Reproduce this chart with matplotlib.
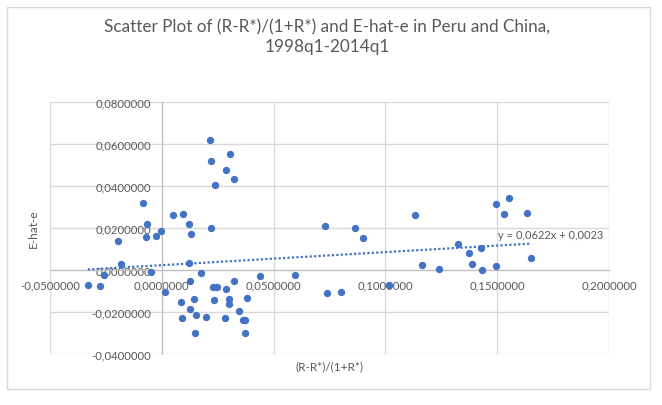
import numpy as np
import matplotlib
matplotlib.use("Agg")
import matplotlib.pyplot as plt
from matplotlib.ticker import FuncFormatter, MultipleLocator
from matplotlib.patches import Rectangle

plt.rcParams['font.family'] = ['Lato', 'DejaVu Sans']

# (R-R*)/(1+R*) values
x_vals = [0.0217, 0.0220, 0.0306, 0.0288, 0.0324, 0.0239, -0.0083, 0.0051, 0.0095, -0.0065,
          0.0123, 0.0220, 0.0132, -0.0003, -0.0025, -0.0069, -0.0195, -0.0182, 0.0123, -0.0257,
          -0.0331, -0.0275, -0.0047, 0.0015, 0.0127, 0.0177, 0.0085, 0.0145, 0.0127, 0.0092,
          0.0154, 0.0150, 0.0198, 0.0229, 0.0248, 0.0235, 0.0288, 0.0302, 0.0302, 0.0324,
          0.0284, 0.0347, 0.0363, 0.0373, 0.0382, 0.0373, 0.0441, 0.0597, 0.0729, 0.0865,
          0.0901, 0.0740, 0.0801, 0.1017, 0.1133, 0.1165, 0.1241, 0.1326, 0.1373, 0.1389,
          0.1428, 0.1433, 0.1496, 0.1496, 0.1554, 0.1532, 0.1635, 0.1652]
# E-hat-e values
y_vals = [0.0618, 0.0518, 0.0551, 0.0475, 0.0432, 0.0403, 0.0318, 0.0260, 0.0265, 0.0219,
          0.0218, 0.0199, 0.0170, 0.0188, 0.0160, 0.0156, 0.0137, 0.0029, 0.0032, -0.0025,
          -0.0073, -0.0078, -0.0011, -0.0107, -0.0054, -0.0016, -0.0154, -0.0140, -0.0187, -0.0230,
          -0.0216, -0.0301, -0.0225, -0.0082, -0.0082, -0.0144, -0.0092, -0.0140, -0.0163, -0.0054,
          -0.0230, -0.0197, -0.0240, -0.0240, -0.0135, -0.0301, -0.0030, -0.0025, 0.0208, 0.0199,
          0.0151, -0.0111, -0.0106, -0.0070, 0.0261, 0.0022, 0.0003, 0.0123, 0.0080, 0.0027,
          0.0103, -0.0001, 0.0018, 0.0313, 0.0341, 0.0265, 0.0270, 0.0056]

# linear trendline as reported on the chart
slope = 0.0622
intercept = 0.0023

title = "Scatter Plot of (R-R*)/(1+R*) and E-hat-e in Peru and China,\n1998q1-2014q1"

W, H = 662, 406
fig = plt.figure(figsize=(W / 100, H / 100), dpi=100)
fig.patches.append(Rectangle((7 / W, 1 - 390 / H), 643 / W, 382 / H, transform=fig.transFigure,
                             fill=False, edgecolor='#D9D9D9', lw=1))

ax = fig.add_axes([50 / W, 1 - 355 / H, 559 / W, 252 / H])
ax.set_xlim(-0.05, 0.2)
ax.set_ylim(-0.04, 0.08)
ax.xaxis.set_major_locator(MultipleLocator(0.05))
ax.yaxis.set_major_locator(MultipleLocator(0.02))
fmt = FuncFormatter(lambda v, p: f"{v:.7f}".replace('.', ',').replace('−', '-'))
ax.xaxis.set_major_formatter(fmt)
ax.yaxis.set_major_formatter(fmt)
ax.grid(True, color='#D9D9D9', lw=1)
ax.set_axisbelow(True)

for s in ['top', 'right']:
    ax.spines[s].set_visible(False)
ax.spines['left'].set_position(('data', 0))
ax.spines['bottom'].set_position(('data', 0))
ax.spines['left'].set_color('#BFBFBF')
ax.spines['bottom'].set_color('#BFBFBF')
ax.tick_params(length=0, labelcolor='#595959', labelsize=8.2)
ax.tick_params(axis='x', pad=7)
ax.tick_params(axis='y', pad=7.5)

ax.scatter(x_vals, y_vals, s=28, color='#4472C4', zorder=3, linewidths=0)

xs = np.array([min(x_vals), max(x_vals)])
ax.plot(xs, slope * xs + intercept, ls=(0, (1, 1)), color='#4472C4', lw=1.6, zorder=4)
ax.text(0.1504, 0.0167, f"y = {slope:.4f}x + {intercept:.4f}".replace('.', ','),
        color='#595959', fontsize=8, ha='left', va='center')

fig.text(327 / W, 1 - 37 / H, title, ha='center', va='center', fontsize=12.3,
         color='#595959', linespacing=1.3)
fig.text(330 / W, 1 - 367 / H, "(R-R*)/(1+R*)", ha='center', va='center', fontsize=8.5,
         color='#595959')
fig.text(33 / W, 1 - 229 / H, "E-hat-e", ha='center', va='center', fontsize=8.5,
         color='#595959', rotation=90)

fig.savefig("out.png", dpi=100)
